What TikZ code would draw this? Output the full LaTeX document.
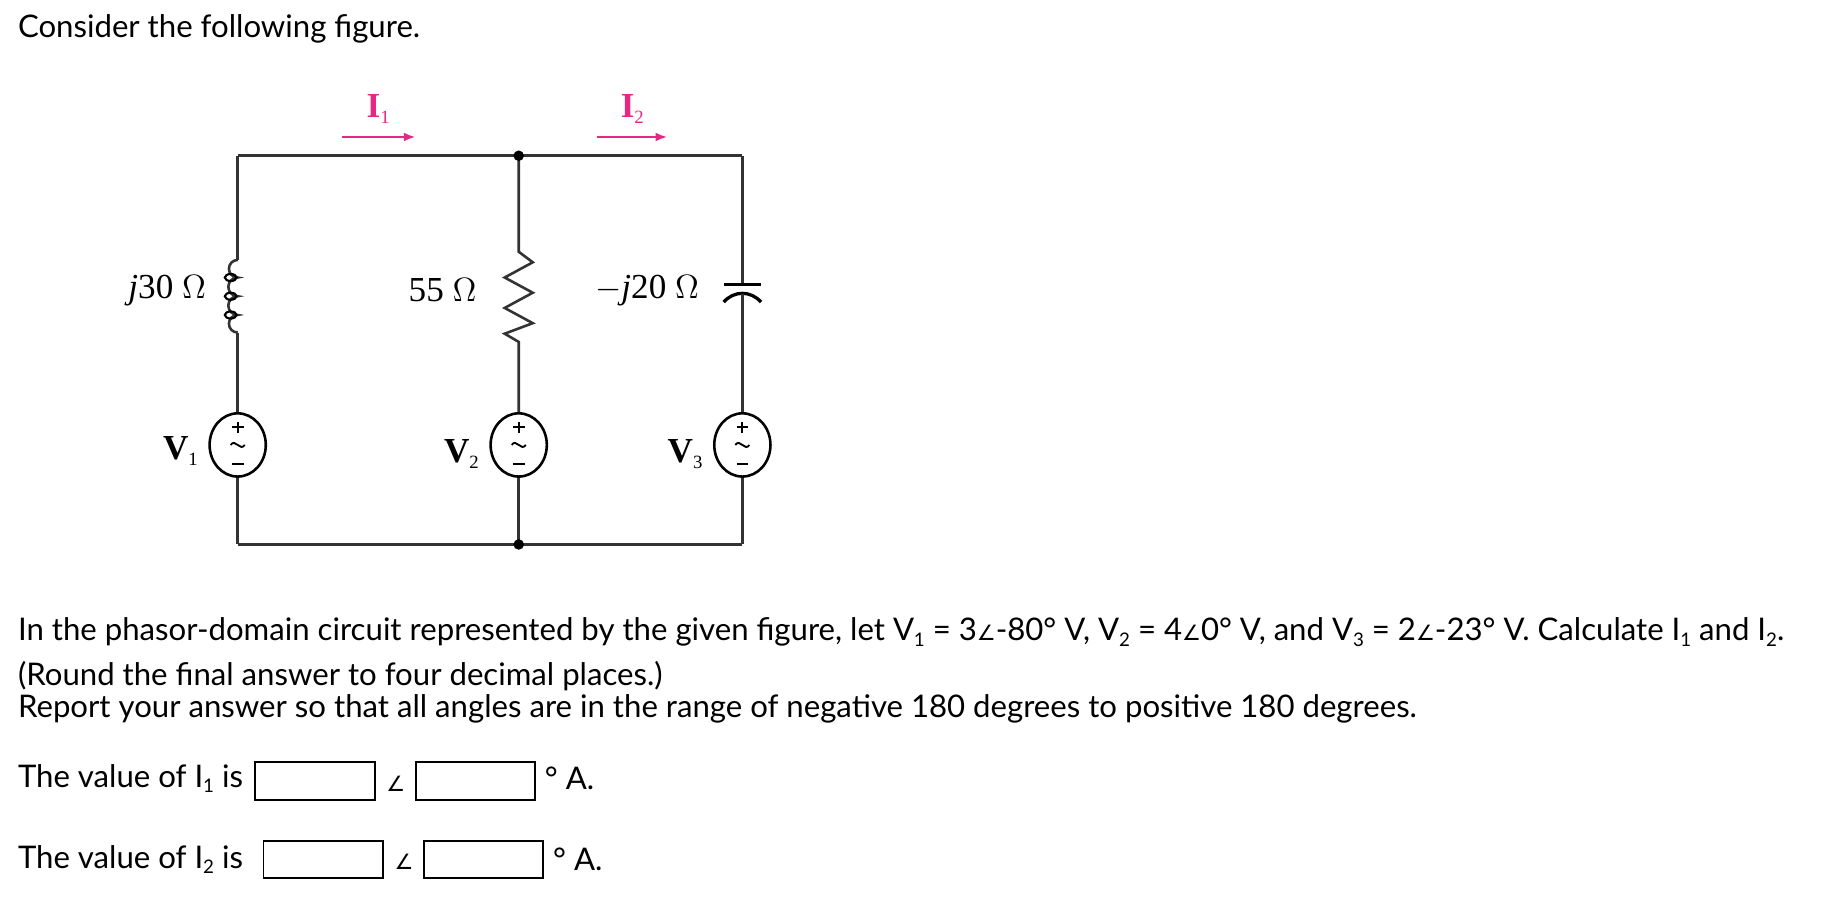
\documentclass[tikz,border=0pt]{standalone}
\usepackage{fontspec}
\usetikzlibrary{shapes.geometric,arrows.meta}
\setmainfont{Lato}
\newfontfamily\tms{Liberation Serif}
\newfontfamily\dvs{DejaVu Sans}
\definecolor{mag}{RGB}{230,40,130}
\newcommand{\angsym}{{\dvs\small ∠}}
\newcommand{\sbs}[1]{\raisebox{-0.35ex}{\footnotesize #1}}
\begin{document}
\begin{tikzpicture}[x=0.5pt,y=-0.5pt,
  wire/.style={line width=1.1pt,black!80},
  src/.style={ellipse,draw,line width=1.1pt,minimum width=24pt,minimum height=27pt,inner sep=0pt},
  clab/.style={font=\tms\fontsize{15}{17}\selectfont,anchor=east},
  txt/.style={anchor=west,inner sep=0pt,font=\fontsize{13.3}{15}\selectfont},
  ansbox/.style={draw,line width=0.8pt,minimum width=51pt,minimum height=16pt,inner sep=0pt},
  dot/.style={circle,fill=black,inner sep=0pt,minimum size=4.5pt}]
\useasboundingbox (0,0) rectangle (1568,770);
\node[txt] (t0) at (15,25) {Consider the following figure.};
% coordinates
\coordinate (tl) at (203,133); \coordinate (tm) at (443,133); \coordinate (tr) at (634,133);
\coordinate (bl) at (203,465); \coordinate (bm) at (443,465); \coordinate (br) at (634,465);
\node[src] (s1) at (203,380) {};
\node[src] (s2) at (443,380) {};
\node[src] (s3) at (634,380) {};
\foreach \s in {s1,s2,s3}{
  \draw[line width=0.8pt] ([yshift=5pt]\s.center) -- ([yshift=10pt]\s.center)
     ([xshift=-2.5pt,yshift=7.5pt]\s.center) -- ([xshift=2.5pt,yshift=7.5pt]\s.center);
  \draw[line width=0.8pt] ([xshift=-3pt]\s.center) .. controls ([xshift=-1pt,yshift=3pt]\s.center) and ([xshift=1pt,yshift=-3pt]\s.center) .. ([xshift=3pt]\s.center);
  \draw[line width=0.8pt] ([xshift=-2.5pt,yshift=-8pt]\s.center) -- ([xshift=2.5pt,yshift=-8pt]\s.center);
}
\draw[wire] (tl) -- (tm) -- (tr);
\draw[wire] (bl) -- (bm) -- (br);
% left branch: inductor
\coordinate (l1) at (203,222); \coordinate (l2) at (203,284);
\draw[wire] (tl) -- (l1);
\draw[wire] (l1) arc (270:90:7.5) arc (270:90:8) arc (270:90:8) arc (270:90:7.5);
\foreach \yy in {237,253,269}{\draw[line width=0.9pt] (197,\yy) ellipse (5 and 3);}
\draw[wire] (l2) -- (s1.north);
\draw[wire] (s1.south) -- (bl);
% middle branch: resistor
\coordinate (r1) at (443,215); \coordinate (r2) at (443,292);
\draw[wire] (tm) -- (r1) -- (455,224) -- (431,237) -- (455,250) -- (431,263) -- (455,276) -- (431,285) -- (r2) -- (s2.north);
\draw[wire] (s2.south) -- (bm);
% right branch: capacitor
\coordinate (c1) at (634,243); \coordinate (c2) at (634,251);
\draw[wire] (tr) -- (c1);
\draw[line width=1.4pt] (618,243) -- (650,243);
\draw[line width=1.4pt] (618,258) .. controls (627,248) and (641,248) .. (650,258);
\draw[wire] (c2) -- (s3.north);
\draw[wire] (s3.south) -- (br);
\node[dot] at (tm) {}; \node[dot] at (bm) {};
% labels
\node[clab] at (183,248) {\itshape j\upshape 30 $\Omega$};
\node[clab] at (414,248) {55 $\Omega$};
\node[clab] at (604,248) {$-$\itshape j\upshape 20 $\Omega$};
\node[clab] at (176,385) {\textbf{V}\sbs{1}};
\node[clab] at (416,388) {\textbf{V}\sbs{2}};
\node[clab] at (607,388) {\textbf{V}\sbs{3}};
\node[font=\tms\fontsize{15}{17}\selectfont,text=mag] at (323,93) {\textbf{I}\sbs{1}};
\node[font=\tms\fontsize{15}{17}\selectfont,text=mag] at (540,93) {\textbf{I}\sbs{2}};
\draw[mag,line width=1pt,-{Latex[length=5pt]}] (292,117) -- (355,117);
\draw[mag,line width=1pt,-{Latex[length=5pt]}] (510,117) -- (570,117);
% question text
\node[txt] (q1) at (15,540) {In the phasor-domain circuit represented by the given figure, let V\sbs{1} = 3\angsym-80° V, V\sbs{2} = 4\angsym 0° V, and V\sbs{3} = 2\angsym-23° V. Calculate I\sbs{1} and I\sbs{2}.};
\node[txt] (q2) at (15,577) {(Round the final answer to four decimal places.)};
\node[txt] (q3) at (15,605) {Report your answer so that all angles are in the range of negative 180 degrees to positive 180 degrees.};
\node[txt] (a1) at (15,665) {The value of I\sbs{1} is};
\node[ansbox] (b11) at (269,667) {};
\node at (338,669) {\angsym};
\node[ansbox] (b12) at (406,667) {};
\node[txt] at (465,665) {° A.};
\node[txt] (a2) at (15,734) {The value of I\sbs{2} is};
\node[ansbox] (b21) at (276,734) {};
\node at (345,736) {\angsym};
\node[ansbox] (b22) at (413,734) {};
\node[txt] at (472,734) {° A.};
\end{tikzpicture}
\end{document}
